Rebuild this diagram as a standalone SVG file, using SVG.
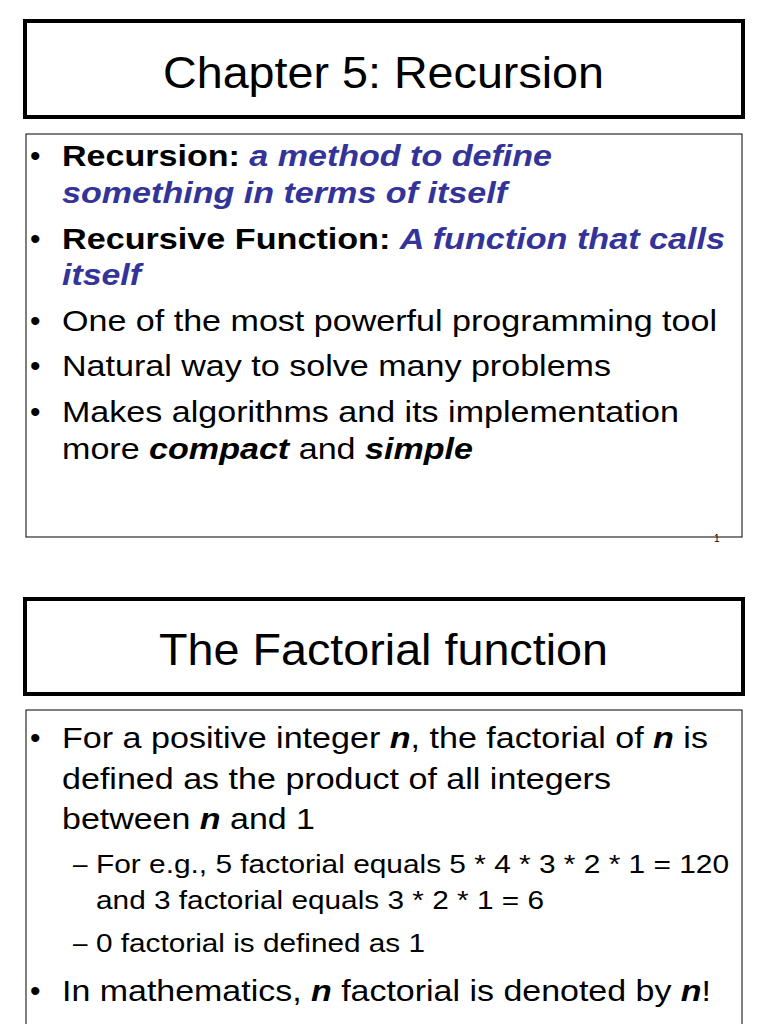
<svg xmlns="http://www.w3.org/2000/svg" width="768" height="1024" viewBox="0 0 768 1024">
<style>
text{font-family:"Liberation Sans",Arial,sans-serif;fill:#000}
.t{font-size:44px}
.b{font-size:30px}
.s{font-size:26px}
.bl{fill:#333399;font-style:italic;font-weight:bold}
.tb{fill:none;stroke:#000;stroke-width:4}
.cb{fill:none;stroke:#000;stroke-width:1}
</style>
<rect width="768" height="1024" fill="#fff"/>
<g id="slide1-title"><rect class="tb" x="25" y="21" width="718" height="96"/><text class="t" x="163" y="88" textLength="441" lengthAdjust="spacingAndGlyphs">Chapter 5: Recursion</text></g>
<g id="slide1-body"><rect class="cb" x="26" y="134" width="716" height="403"/>
<text class="b" x="30" y="166">•</text><text class="b" x="62" y="166" textLength="490" lengthAdjust="spacingAndGlyphs"><tspan font-weight="bold">Recursion: </tspan><tspan class="bl">a method to define</tspan></text>
<text class="b bl" x="62" y="203" textLength="445" lengthAdjust="spacingAndGlyphs">something in terms of itself</text>
<text class="b" x="30" y="249">•</text><text class="b" x="62" y="249" textLength="663" lengthAdjust="spacingAndGlyphs"><tspan font-weight="bold">Recursive Function: </tspan><tspan class="bl">A function that calls</tspan></text>
<text class="b bl" x="62" y="285" textLength="79" lengthAdjust="spacingAndGlyphs">itself</text>
<text class="b" x="30" y="331">•</text><text class="b" x="62" y="331" textLength="655" lengthAdjust="spacingAndGlyphs">One of the most powerful programming tool</text>
<text class="b" x="30" y="376">•</text><text class="b" x="62" y="376" textLength="549" lengthAdjust="spacingAndGlyphs">Natural way to solve many problems</text>
<text class="b" x="30" y="422">•</text><text class="b" x="62" y="422" textLength="617" lengthAdjust="spacingAndGlyphs">Makes algorithms and its implementation</text>
<text class="b" x="62" y="459" textLength="411" lengthAdjust="spacingAndGlyphs">more <tspan font-weight="bold" font-style="italic">compact</tspan> and <tspan font-weight="bold" font-style="italic">simple</tspan></text>
<text x="714" y="542" font-size="10">1</text></g>
<g id="slide2-title"><rect class="tb" x="25" y="599" width="718" height="95"/><text class="t" x="159" y="665" textLength="449" lengthAdjust="spacingAndGlyphs">The Factorial function</text></g>
<g id="slide2-body"><rect class="cb" x="26" y="710" width="716" height="330"/>
<text class="b" x="30" y="748">•</text><text class="b" x="62" y="748" textLength="646" lengthAdjust="spacingAndGlyphs">For a positive integer <tspan font-weight="bold" font-style="italic">n</tspan>, the factorial of <tspan font-weight="bold" font-style="italic">n</tspan> is</text>
<text class="b" x="62" y="789" textLength="549" lengthAdjust="spacingAndGlyphs">defined as the product of all integers</text>
<text class="b" x="62" y="829" textLength="253" lengthAdjust="spacingAndGlyphs">between <tspan font-weight="bold" font-style="italic">n</tspan> and 1</text>
<text class="s" x="73" y="873">–</text><text class="s" x="96" y="873" textLength="633" lengthAdjust="spacingAndGlyphs">For e.g., 5 factorial equals 5 * 4 * 3 * 2 * 1 = 120</text>
<text class="s" x="96" y="909" textLength="448" lengthAdjust="spacingAndGlyphs">and 3 factorial equals 3 * 2 * 1 = 6</text>
<text class="s" x="73" y="952">–</text><text class="s" x="96" y="952" textLength="329" lengthAdjust="spacingAndGlyphs">0 factorial is defined as 1</text>
<text class="b" x="30" y="1001">•</text><text class="b" x="62" y="1001" textLength="649" lengthAdjust="spacingAndGlyphs">In mathematics, <tspan font-weight="bold" font-style="italic">n</tspan> factorial is denoted by <tspan font-weight="bold" font-style="italic">n</tspan>!</text></g>
</svg>
